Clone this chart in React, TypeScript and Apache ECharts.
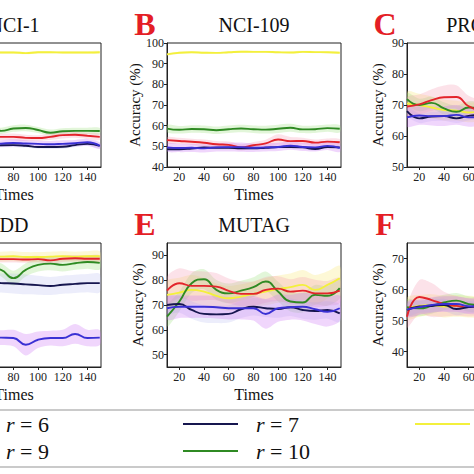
import React, { useEffect, useRef } from "react";
import * as echarts from "echarts";

const FONT = "Liberation Serif";
const FONT_STACK = "'Liberation Serif', 'Times New Roman', serif";

// Training repetitions on the x axis
const times = [10, 20, 30, 40, 50, 60, 70, 80, 90, 100, 110, 120, 130, 140, 150];
const xTicks = [20, 40, 60, 80, 100, 120, 140];
const rNames = ["r = 6", "r = 7", "r = 8", "r = 9", "r = 10"];

// NCI-1: mean accuracy and half-width of the shaded band
const nci1R6 = [54.0, 54.3, 54.5, 54.2, 54.0, 54.4, 54.6, 54.6, 54.1, 54.0, 54.6, 55.4, 55.6, 55.1, 54.6];
const nci1R7 = [50.2, 50.0, 50.4, 50.6, 50.3, 50.0, 50.5, 50.6, 50.3, 49.7, 49.7, 49.8, 50.6, 51.2, 50.2];
const nci1R8 = [95.0, 95.2, 95.3, 95.1, 95.0, 95.2, 95.4, 95.4, 95.1, 95.5, 95.5, 95.4, 95.4, 95.4, 95.5];
const nci1R9 = [51.0, 51.3, 51.0, 51.2, 51.4, 51.0, 51.3, 51.6, 51.4, 51.2, 51.0, 51.2, 51.5, 52.0, 50.3];
const nci1R10 = [58.2, 58.0, 57.8, 58.0, 58.3, 58.0, 57.5, 58.6, 58.9, 57.9, 56.6, 57.3, 57.5, 57.5, 57.4];
const nci1R6Band = [1.5, 1.5, 1.4, 1.5, 1.6, 1.5, 1.5, 1.6, 1.5, 1.4, 1.5, 1.6, 1.5, 1.5, 1.5];
const nci1R7Band = [0.9, 0.9, 1.0, 1.0, 0.9, 0.9, 1.0, 1.0, 0.9, 0.9, 1.0, 1.0, 0.9, 1.0, 1.0];
const nci1R8Band = [0.6, 0.6, 0.6, 0.6, 0.6, 0.6, 0.6, 0.6, 0.6, 0.6, 0.6, 0.6, 0.6, 0.6, 0.6];
const nci1R9Band = [1.6, 1.6, 1.5, 1.6, 1.7, 1.6, 1.6, 1.7, 1.6, 1.5, 1.6, 1.7, 1.6, 1.6, 1.6];
const nci1R10Band = [1.5, 1.5, 1.5, 1.5, 1.5, 1.5, 1.5, 1.6, 1.6, 1.5, 1.5, 1.5, 1.5, 1.5, 1.5];

// NCI-109
const nci109R6 = [53.0, 52.6, 52.2, 51.7, 51.0, 50.7, 49.5, 50.5, 51.4, 53.3, 52.5, 52.6, 51.8, 52.3, 52.0];
const nci109R7 = [48.6, 48.6, 48.9, 49.4, 49.3, 49.3, 49.0, 49.0, 49.3, 49.6, 49.7, 49.5, 48.7, 49.7, 49.5];
const nci109R8 = [94.5, 95.3, 95.5, 95.3, 95.2, 95.5, 95.8, 95.7, 95.7, 95.5, 95.4, 95.7, 95.6, 95.5, 95.3];
const nci109R9 = [49.5, 49.2, 49.3, 49.0, 49.5, 49.6, 49.6, 49.3, 49.5, 49.7, 50.3, 49.7, 49.5, 50.2, 49.2];
const nci109R10 = [58.6, 58.0, 58.4, 58.3, 57.8, 58.3, 58.6, 58.3, 58.1, 58.5, 59.0, 58.2, 58.3, 58.8, 58.5];
const nci109R6Band = [1.5, 1.5, 1.5, 1.6, 1.6, 1.6, 1.5, 1.6, 1.8, 2.5, 2.0, 1.6, 1.5, 1.5, 1.5];
const nci109R7Band = [0.8, 0.8, 0.8, 0.8, 0.8, 0.8, 0.8, 0.8, 0.8, 0.8, 0.8, 0.8, 0.8, 0.8, 0.8];
const nci109R8Band = [0.5, 0.5, 0.5, 0.5, 0.5, 0.5, 0.5, 0.5, 0.5, 0.5, 0.5, 0.5, 0.5, 0.5, 0.5];
const nci109R9Band = [2.0, 2.0, 2.0, 2.0, 2.0, 2.1, 2.2, 2.0, 2.0, 2.0, 2.0, 2.0, 2.0, 2.0, 2.0];
const nci109R10Band = [1.8, 1.8, 1.8, 1.8, 1.8, 1.8, 1.8, 1.8, 1.9, 2.0, 1.9, 1.8, 1.8, 1.8, 1.8];

// PROTEINS
const protR6 = [69.5, 70.2, 71.6, 72.5, 72.6, 69.6, 68.6, 69.0, 70.2, 70.6, 69.4, 68.8, 69.5, 70.0, 69.6];
const protR7 = [68.0, 65.7, 66.3, 66.4, 65.7, 66.5, 66.8, 66.2, 66.0, 66.6, 66.9, 66.3, 66.1, 66.5, 66.7];
const protR8 = [70.5, 70.0, 69.2, 68.4, 68.2, 67.6, 68.0, 68.5, 68.2, 67.8, 68.3, 68.6, 68.1, 68.4, 68.6];
const protR9 = [66.0, 66.6, 66.4, 66.4, 66.8, 66.0, 66.3, 66.7, 66.5, 66.2, 66.4, 66.8, 66.4, 66.3, 66.6];
const protR10 = [71.9, 70.0, 70.7, 68.9, 67.8, 69.2, 69.0, 68.6, 69.4, 70.0, 69.2, 68.5, 69.0, 69.6, 69.3];
const protR6Band = [3.0, 3.2, 3.5, 3.8, 3.8, 3.4, 3.2, 3.2, 3.3, 3.4, 3.2, 3.2, 3.2, 3.3, 3.2];
const protR7Band = [1.5, 1.5, 1.5, 1.5, 1.5, 1.5, 1.5, 1.5, 1.5, 1.5, 1.5, 1.5, 1.5, 1.5, 1.5];
const protR8Band = [3.8, 3.6, 3.5, 3.4, 3.2, 3.2, 3.2, 3.3, 3.2, 3.2, 3.3, 3.3, 3.2, 3.3, 3.3];
const protR9Band = [3.0, 3.0, 3.0, 3.2, 3.2, 3.0, 3.0, 3.0, 3.0, 3.0, 3.0, 3.0, 3.0, 3.0, 3.0];
const protR10Band = [2.0, 2.0, 2.0, 2.0, 2.0, 2.0, 2.0, 2.0, 2.0, 2.0, 2.0, 2.0, 2.0, 2.0, 2.0];

// DD
const ddR6 = [80.8, 81.0, 81.2, 81.0, 80.9, 81.1, 81.1, 81.1, 81.0, 81.1, 80.8, 81.2, 81.3, 81.2, 81.2];
const ddR7 = [75.6, 75.2, 75.4, 75.0, 75.3, 75.5, 75.3, 75.2, 75.0, 74.8, 74.6, 74.9, 75.1, 75.3, 75.3];
const ddR8 = [81.6, 81.7, 81.8, 81.6, 81.7, 81.8, 81.7, 81.8, 81.6, 81.6, 81.7, 81.8, 81.7, 81.8, 81.8];
const ddR9 = [62.5, 62.0, 61.8, 62.3, 62.6, 62.2, 62.1, 62.0, 60.4, 61.6, 62.0, 62.0, 63.0, 62.0, 62.1];
const ddR10 = [79.5, 79.0, 78.6, 79.2, 79.6, 79.0, 78.5, 76.5, 78.5, 79.7, 80.0, 79.7, 80.1, 80.4, 80.2];
const ddR6Band = [0.8, 0.8, 0.8, 0.8, 0.8, 0.8, 0.8, 0.8, 0.8, 0.8, 0.8, 0.8, 0.8, 0.8, 0.8];
const ddR7Band = [2.2, 2.2, 2.2, 2.2, 2.2, 2.2, 2.3, 2.4, 2.4, 2.3, 2.2, 2.2, 2.2, 2.2, 2.2];
const ddR8Band = [1.2, 1.2, 1.2, 1.2, 1.2, 1.2, 1.2, 1.2, 1.2, 1.2, 1.2, 1.2, 1.2, 1.2, 1.2];
const ddR9Band = [1.8, 1.8, 1.8, 1.8, 1.8, 1.8, 1.8, 2.0, 2.6, 2.0, 1.8, 2.0, 2.4, 2.0, 1.8];
const ddR10Band = [1.6, 1.6, 1.6, 1.6, 1.6, 1.6, 1.6, 1.8, 1.6, 1.6, 1.6, 1.6, 1.6, 1.6, 1.6];

// MUTAG
const mutagR6 = [75.8, 78.8, 77.7, 77.7, 77.4, 75.7, 74.5, 74.5, 76.1, 76.6, 75.4, 75.8, 74.7, 74.7, 75.8];
const mutagR7 = [70.0, 70.4, 68.0, 66.4, 66.2, 66.4, 68.3, 69.3, 68.7, 68.4, 69.1, 68.0, 67.6, 68.0, 66.6];
const mutagR8 = [74.1, 75.0, 76.1, 75.4, 73.7, 72.7, 73.4, 74.5, 75.4, 76.4, 77.2, 78.1, 76.1, 78.1, 80.8];
const mutagR9 = [68.7, 69.3, 69.3, 69.3, 69.1, 68.7, 68.7, 68.7, 66.4, 68.7, 69.1, 69.3, 68.3, 67.3, 68.7];
const mutagR10 = [65.3, 71.4, 78.8, 80.4, 76.1, 74.7, 75.8, 77.2, 79.5, 75.4, 71.4, 71.0, 74.1, 73.7, 76.8];
const mutagR6Band = [5.5, 6.0, 6.0, 5.8, 5.5, 5.0, 5.0, 5.0, 5.2, 5.0, 5.0, 5.5, 5.5, 5.0, 5.0];
const mutagR7Band = [3.5, 3.5, 3.5, 3.5, 3.5, 3.5, 3.5, 3.5, 3.5, 3.5, 3.5, 3.5, 3.5, 3.5, 3.5];
const mutagR8Band = [5.5, 6.0, 6.0, 5.5, 5.0, 5.0, 5.0, 5.0, 5.5, 5.5, 5.5, 6.0, 6.0, 5.5, 5.0];
const mutagR9Band = [4.5, 4.5, 4.5, 4.5, 4.5, 4.5, 4.5, 5.0, 6.0, 5.5, 5.0, 5.5, 6.0, 6.0, 5.0];
const mutagR10Band = [4.0, 4.0, 4.0, 4.0, 4.0, 4.0, 4.0, 4.0, 4.0, 4.0, 4.0, 4.0, 4.0, 4.0, 4.0];

// PTC
const ptcR6 = [51.2, 57.6, 56.6, 55.3, 54.7, 54.3, 54.6, 54.9, 54.4, 54.2, 54.6, 54.8, 54.3, 54.5, 54.6];
const ptcR7 = [53.4, 54.5, 54.7, 55.0, 53.7, 54.3, 54.6, 54.2, 54.5, 54.8, 54.3, 54.1, 54.6, 54.4, 54.5];
const ptcR8 = [53.9, 54.7, 55.0, 54.5, 54.7, 54.5, 54.4, 54.8, 54.6, 54.3, 54.7, 54.9, 54.5, 54.6, 54.8];
const ptcR9 = [53.6, 54.3, 55.0, 55.3, 55.3, 54.6, 54.5, 54.8, 54.4, 54.7, 54.9, 54.5, 54.3, 54.6, 54.7];
const ptcR10 = [54.3, 53.9, 54.7, 55.8, 56.4, 55.3, 55.0, 55.4, 55.8, 55.2, 54.9, 55.3, 55.6, 55.1, 55.2];
const ptcR6Band = [3.5, 5.5, 5.5, 4.0, 3.2, 3.0, 3.0, 3.0, 3.0, 3.0, 3.0, 3.0, 3.0, 3.0, 3.0];
const ptcR7Band = [2.0, 2.0, 2.0, 2.0, 2.0, 2.0, 2.0, 2.0, 2.0, 2.0, 2.0, 2.0, 2.0, 2.0, 2.0];
const ptcR8Band = [3.5, 3.5, 3.5, 3.5, 3.5, 3.5, 3.5, 3.5, 3.5, 3.5, 3.5, 3.5, 3.5, 3.5, 3.5];
const ptcR9Band = [2.5, 2.5, 2.5, 2.5, 2.5, 2.5, 2.5, 2.5, 2.5, 2.5, 2.5, 2.5, 2.5, 2.5, 2.5];
const ptcR10Band = [2.5, 2.5, 2.5, 2.5, 2.5, 2.5, 2.5, 2.5, 2.5, 2.5, 2.5, 2.5, 2.5, 2.5, 2.5];

const lineColor: Record<string, string> = {
  "r = 6": "#e3242b",
  "r = 7": "#16164f",
  "r = 8": "#f3f03c",
  "r = 9": "#3a30d4",
  "r = 10": "#2f8a23",
};
const bandColor: Record<string, string> = {
  "r = 6": "rgba(245,150,175,0.28)",
  "r = 7": "rgba(170,175,235,0.22)",
  "r = 8": "rgba(250,232,120,0.30)",
  "r = 9": "rgba(205,120,245,0.30)",
  "r = 10": "rgba(160,225,130,0.30)",
};

type Panel = {
  title: string;
  letter: string;
  yMin: number;
  yMax: number;
  yTicks: number[];
  mean: Record<string, number[]>;
  band: Record<string, number[]>;
};

const panels: Panel[] = [
  {
    title: "NCI-1", letter: "A", yMin: 40, yMax: 100, yTicks: [40, 50, 60, 70, 80, 90, 100],
    mean: { "r = 6": nci1R6, "r = 7": nci1R7, "r = 8": nci1R8, "r = 9": nci1R9, "r = 10": nci1R10 },
    band: { "r = 6": nci1R6Band, "r = 7": nci1R7Band, "r = 8": nci1R8Band, "r = 9": nci1R9Band, "r = 10": nci1R10Band },
  },
  {
    title: "NCI-109", letter: "B", yMin: 40, yMax: 100, yTicks: [40, 50, 60, 70, 80, 90, 100],
    mean: { "r = 6": nci109R6, "r = 7": nci109R7, "r = 8": nci109R8, "r = 9": nci109R9, "r = 10": nci109R10 },
    band: { "r = 6": nci109R6Band, "r = 7": nci109R7Band, "r = 8": nci109R8Band, "r = 9": nci109R9Band, "r = 10": nci109R10Band },
  },
  {
    title: "PROTEINS", letter: "C", yMin: 50, yMax: 90, yTicks: [50, 60, 70, 80, 90],
    mean: { "r = 6": protR6, "r = 7": protR7, "r = 8": protR8, "r = 9": protR9, "r = 10": protR10 },
    band: { "r = 6": protR6Band, "r = 7": protR7Band, "r = 8": protR8Band, "r = 9": protR9Band, "r = 10": protR10Band },
  },
  {
    title: "DD", letter: "D", yMin: 55, yMax: 85, yTicks: [60, 70, 80],
    mean: { "r = 6": ddR6, "r = 7": ddR7, "r = 8": ddR8, "r = 9": ddR9, "r = 10": ddR10 },
    band: { "r = 6": ddR6Band, "r = 7": ddR7Band, "r = 8": ddR8Band, "r = 9": ddR9Band, "r = 10": ddR10Band },
  },
  {
    title: "MUTAG", letter: "E", yMin: 45, yMax: 95, yTicks: [50, 60, 70, 80, 90],
    mean: { "r = 6": mutagR6, "r = 7": mutagR7, "r = 8": mutagR8, "r = 9": mutagR9, "r = 10": mutagR10 },
    band: { "r = 6": mutagR6Band, "r = 7": mutagR7Band, "r = 8": mutagR8Band, "r = 9": mutagR9Band, "r = 10": mutagR10Band },
  },
  {
    title: "PTC", letter: "F", yMin: 35, yMax: 75, yTicks: [40, 50, 60, 70],
    mean: { "r = 6": ptcR6, "r = 7": ptcR7, "r = 8": ptcR8, "r = 9": ptcR9, "r = 10": ptcR10 },
    band: { "r = 6": ptcR6Band, "r = 7": ptcR7Band, "r = 8": ptcR8Band, "r = 9": ptcR9Band, "r = 10": ptcR10Band },
  },
];

// Panel placement: three columns, two rows
const colLeft = [-73, 167, 407];
const rowTop = [43, 243];
const plotW = 174;
const plotH = 124;
const drawOrder = ["r = 8", "r = 10", "r = 6", "r = 7", "r = 9"];

function buildOption() {
  const grid: any[] = [];
  const xAxis: any[] = [];
  const yAxis: any[] = [];
  const series: any[] = [];
  const graphic: any[] = [];
  const axisColor = "#222";

  panels.forEach((p, i) => {
    const left = colLeft[i % 3];
    const top = rowTop[Math.floor(i / 3)];
    grid.push({
      left, top, width: plotW, height: plotH,
      show: true, borderColor: axisColor, borderWidth: 1,
      backgroundColor: "transparent", outerBoundsMode: "none", containLabel: false,
    });
    xAxis.push({
      type: "value", gridIndex: i, min: 10, max: 151,
      axisLine: { show: true, onZero: false, lineStyle: { color: axisColor } },
      axisTick: { show: true, customValues: xTicks, length: 3, lineStyle: { color: axisColor } },
      axisLabel: { customValues: xTicks, margin: 4, fontSize: 12, fontFamily: FONT, color: "#222" },
      splitLine: { show: false },
      name: "Times", nameLocation: "middle", nameGap: 19,
      nameTextStyle: { fontSize: 16, fontFamily: FONT, color: "#111" },
    });
    yAxis.push({
      type: "value", gridIndex: i, min: p.yMin, max: p.yMax,
      axisLine: { show: true, onZero: false, lineStyle: { color: axisColor } },
      axisTick: { show: true, customValues: p.yTicks, length: 3, lineStyle: { color: axisColor } },
      axisLabel: { customValues: p.yTicks, margin: 3, fontSize: 12, fontFamily: FONT, color: "#222" },
      splitLine: { show: false },
      name: "Accuracy (%)", nameLocation: "middle", nameGap: 22,
      nameTextStyle: { fontSize: 15, fontFamily: FONT, color: "#111" },
    });

    // shaded spread around each mean curve
    drawOrder.forEach((r) => {
      const mean = p.mean[r];
      const band = p.band[r];
      series.push({
        type: "custom", name: `${r} spread`, coordinateSystem: "cartesian2d",
        xAxisIndex: i, yAxisIndex: i, silent: true, clip: true, z: 1,
        data: times.map((t, j) => [t, mean[j] - band[j], mean[j] + band[j]]),
        encode: { x: 0, y: [1, 2] },
        renderItem: (params: any, api: any) => {
          if (params.dataIndex !== 0) return null;
          const upper = times.map((t, j) => api.coord([t, mean[j] + band[j]]));
          const lower = times.map((t, j) => api.coord([t, mean[j] - band[j]])).reverse();
          return {
            type: "polygon",
            shape: { points: upper.concat(lower), smooth: 0.3 },
            style: { fill: bandColor[r], stroke: "none" },
          };
        },
      });
    });
    // mean curves
    drawOrder.forEach((r) => {
      series.push({
        type: "line", name: r, xAxisIndex: i, yAxisIndex: i,
        data: times.map((t, j) => [t, p.mean[r][j]]),
        smooth: true, symbol: "none", z: 3,
        lineStyle: { color: lineColor[r], width: 1.9 },
        itemStyle: { color: lineColor[r] },
      });
    });

    const cx = left + plotW / 2;
    const ty = top - 18;
    graphic.push({
      type: "text", x: cx, y: ty, silent: true,
      style: {
        text: p.title, fill: "#111", font: `20px "${FONT}"`, lineHeight: 20,
        align: "center", verticalAlign: "middle", textAlign: "center", textVerticalAlign: "middle",
      },
    });
    graphic.push({
      type: "text", x: left - 22, y: ty - 1, silent: true,
      style: {
        text: p.letter, fill: "#e41e26", font: `bold 32px "${FONT}"`, lineHeight: 24,
        align: "center", verticalAlign: "middle", textAlign: "center", textVerticalAlign: "middle",
      },
    });
  });

  // legend frame rules
  [410, 467].forEach((y) => {
    graphic.push({
      type: "line", silent: true,
      shape: { x1: 0, y1: y, x2: 474, y2: y },
      style: { stroke: "#b9b9b9", lineWidth: 1.5 },
    });
  });

  const legendPos: Record<string, [number, number]> = {
    "r = 6": [-67, 413],
    "r = 7": [183, 413],
    "r = 8": [415, 413],
    "r = 9": [-67, 440],
    "r = 10": [183, 440],
  };
  const legend = rNames.map((r) => ({
    data: [r],
    left: legendPos[r][0],
    top: legendPos[r][1],
    padding: 0,
    icon: "rect",
    itemWidth: 55,
    itemHeight: 2,
    selectedMode: false,
    formatter: (name: string) => `{i|r}{n| = ${name.split("= ")[1]}}`,
    textStyle: {
      fontFamily: FONT_STACK, fontSize: 22, color: "#111", padding: [0, 0, 0, 13],
      rich: {
        i: { fontStyle: "italic", fontFamily: FONT_STACK, fontSize: 22, color: "#111" },
        n: { fontStyle: "normal", fontFamily: FONT_STACK, fontSize: 22, color: "#111" },
      },
    },
  }));

  return {
    animation: false,
    backgroundColor: "#ffffff",
    textStyle: { fontFamily: FONT },
    grid, xAxis, yAxis, series, legend, graphic,
  };
}

export default function App() {
  const ref = useRef<HTMLDivElement>(null);
  useEffect(() => {
    if (!ref.current) return;
    const chart = echarts.init(ref.current, undefined, { renderer: "svg" });
    chart.setOption(buildOption() as any);
    return () => chart.dispose();
  }, []);
  return (
    <div
      ref={ref}
      style={{ position: "fixed", left: 0, top: 0, width: 474, height: 474 }}
    />
  );
}
